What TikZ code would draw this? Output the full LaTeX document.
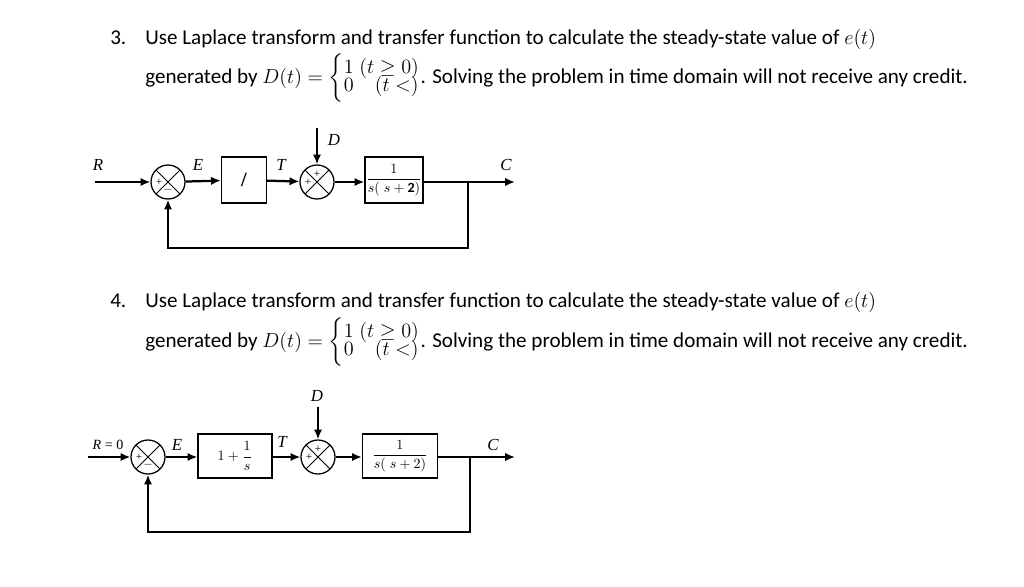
\documentclass[tikz,border=0pt]{standalone}
\usepackage{amsmath}
\usepackage{fontspec}
\setmainfont{Carlito}
\newfontfamily\dgfont{Liberation Serif}
\usetikzlibrary{positioning}
\usetikzlibrary{arrows.meta}
\usetikzlibrary{calc}

\tikzset{
    sumnode/.style={circle, draw, line width=0.9pt, minimum size=34*0.025cm, inner sep=0pt,
        path picture={\draw[line width=0.6pt] (path picture bounding box.south west) -- (path picture bounding box.north east)
        (path picture bounding box.north west) -- (path picture bounding box.south east);}},
    block/.style={draw, line width=0.9pt, inner sep=0pt, font=\dgfont},
    sig/.style={line width=1.6pt, -{Latex[length=7pt,width=6pt]}},
    lbl/.style={font=\dgfont\itshape\large},
    sgn/.style={font=\dgfont\footnotesize, inner sep=0pt},
    qtext/.style={anchor=base west, font=\fontsize{15}{17}\selectfont, inner sep=0pt}
}
\newcommand{\dcases}{\left\{\begin{array}{@{}l@{}}1\;(t\geq 0)\\[-4pt] 0\quad(t<)\end{array}\right.}

\begin{document}
\begin{tikzpicture}[x=0.025cm, y=-0.025cm]
    \useasboundingbox (0,0) rectangle (1024,586);

    % problem 3 text
    \node[qtext] (n3) at (110,44) {3.};
    \node[qtext] (q3a) at (145,44) {Use Laplace transform and transfer function to calculate the steady-state value of $e(t)$};
    \node[qtext] (q3b) at (145,83) {generated by $D(t)=\dcases$. Solving the problem in time domain will not receive any credit.};

    % diagram 1
    \coordinate (r1) at (95,182);
    \node[sumnode] (s1) at (168,182) {};
    \node[block, minimum width=45*0.025cm, minimum height=46*0.025cm] (g1) at (244,180) {\Large\bfseries /};
    \node[sumnode] (s2) at (317,182) {};
    \node[block, minimum width=58*0.025cm, minimum height=46*0.025cm] (g2) at (394,180) {$\dfrac{1}{s(\;s+\mathbf{2})}$};
    \coordinate (c1) at (515,182);
    \coordinate (b1) at (468,182);
    \coordinate (d1) at (317,128);
    \node[sgn] at ($(s1.center)+(-9,0)$) {+};
    \node[sgn] at ($(s1.center)+(0,8)$) {$-$};
    \node[sgn] at ($(s2.center)+(-9,0)$) {+};
    \node[sgn] at ($(s2.center)+(0,-8)$) {+};
    \draw[sig] (r1) -- (s1);
    \draw[sig] (s1) -- (g1);
    \draw[sig] (g1) -- (s2);
    \draw[sig] (s2) -- (s2 -| g2.west);
    \draw[sig] (d1) -- (s2);
    \draw[sig] (g2.east |- c1) -- (c1);
    \draw[sig] (b1) |- (168,248) -- (s1);
    \node[lbl] (lr1) at (98,165) {R};
    \node[lbl] (le1) at (198,165) {E};
    \node[lbl] (lt1) at (281,165) {T};
    \node[lbl] (ld1) at (334,140) {D};
    \node[lbl] (lc1) at (506,165) {C};

    % problem 4 text
    \node[qtext] (n4) at (110,307) {4.};
    \node[qtext] (q4a) at (145,307) {Use Laplace transform and transfer function to calculate the steady-state value of $e(t)$};
    \node[qtext] (q4b) at (145,347) {generated by $D(t)=\dcases$. Solving the problem in time domain will not receive any credit.};

    % diagram 2
    \coordinate (r2) at (88,457);
    \node[sumnode] (s3) at (148,457) {};
    \node[block, minimum width=74*0.025cm, minimum height=44*0.025cm] (g3) at (235,456) {$1+\dfrac{1}{s}$};
    \node[sumnode] (s4) at (318,457) {};
    \node[block, minimum width=75*0.025cm, minimum height=44*0.025cm] (g4) at (400,456) {$\dfrac{1}{s(\;s+2)}$};
    \coordinate (c2) at (515,457);
    \coordinate (b2) at (470,457);
    \coordinate (d2) at (318,407);
    \node[sgn] at ($(s3.center)+(-9,0)$) {+};
    \node[sgn] at ($(s3.center)+(0,8)$) {$-$};
    \node[sgn] at ($(s4.center)+(-9,0)$) {+};
    \node[sgn] at ($(s4.center)+(0,-8)$) {+};
    \draw[sig] (r2) -- (s3);
    \draw[sig] (s3) -- (s3 -| g3.west);
    \draw[sig] (g3.east |- s4) -- (s4);
    \draw[sig] (s4) -- (s4 -| g4.west);
    \draw[sig] (d2) -- (s4);
    \draw[sig] (g4.east |- c2) -- (c2);
    \draw[sig] (b2) |- (148,532) -- (s3);
    \node[font=\dgfont] (lr2) at (108,445) {\textit{R} = 0};
    \node[lbl] (le2) at (177,445) {E};
    \node[lbl] (lt2) at (282,442) {T};
    \node[lbl] (ld2) at (317,396) {D};
    \node[lbl] (lc2) at (493,445) {C};
\end{tikzpicture}
\end{document}
